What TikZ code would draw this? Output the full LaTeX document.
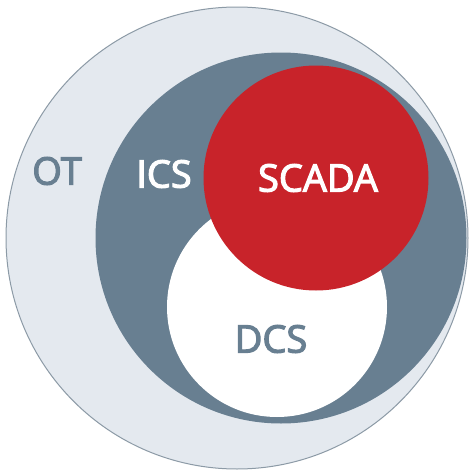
\documentclass[tikz,border=0pt]{standalone}
\usepackage{fontspec}
\setmainfont{Open Sans}
\newfontfamily\semifont{Open Sans}[FakeBold=3]
\definecolor{otfill}{HTML}{E4E9EF}
\definecolor{otline}{HTML}{8C9AA6}
\definecolor{slate}{HTML}{687F91}
\definecolor{scadared}{HTML}{C8232A}
\begin{document}
\begin{tikzpicture}[x=1pt,y=-1pt,
  lbl/.style={font=\semifont\fontsize{38}{40}\selectfont, inner sep=0pt, anchor=center}]
\useasboundingbox (0,0) rectangle (474,474);
\fill[white] (0,0) rectangle (474,474);
% OT
\filldraw[fill=otfill, draw=otline, line width=1pt] (237,238) circle (231);
% ICS
\fill[slate] (281,238) circle (185.5);
% DCS
\fill[white] (277,307) circle (110);
% SCADA
\fill[scadared] (316,178) circle (112.5);
% labels
\node[lbl, text=slate] (ot) at (57,171) {OT};
\node[lbl, text=white] (ics) at (164,174) {ICS};
\node[lbl, text=white] (scada) at (318,178) {SCADA};
\node[lbl, text=slate] (dcs) at (271,339) {DCS};
\end{tikzpicture}
\end{document}
